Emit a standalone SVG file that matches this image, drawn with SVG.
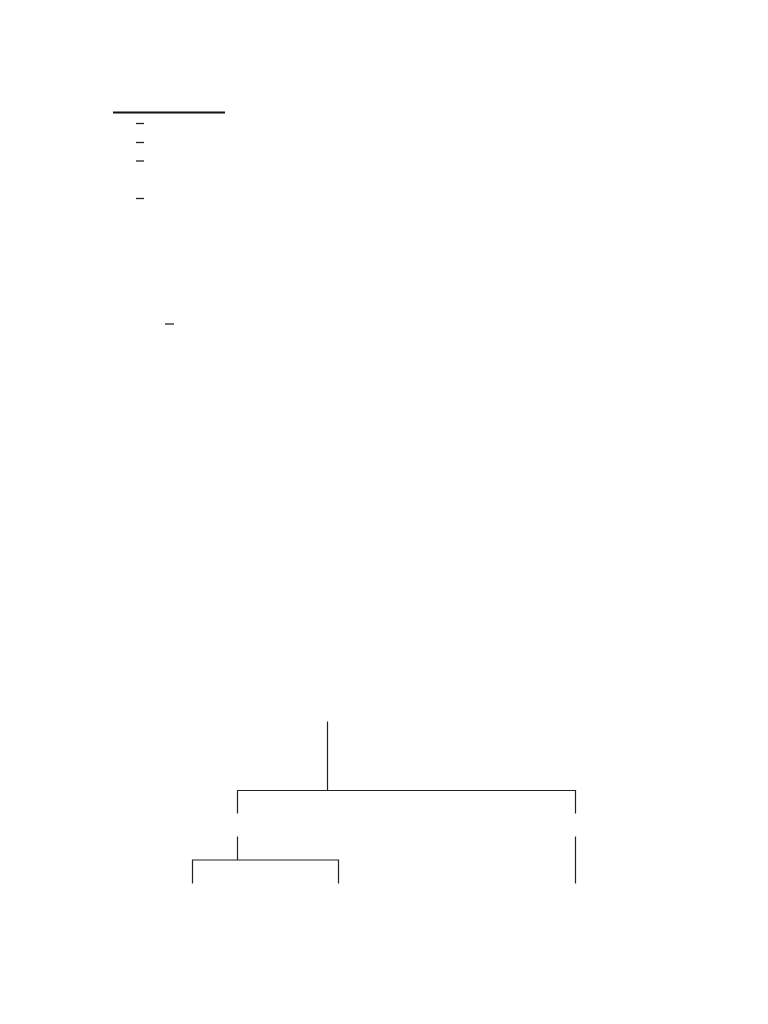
<svg xmlns="http://www.w3.org/2000/svg" width="768" height="1024" viewBox="0 0 768 1024">
<style>
.bg{fill:#ffffff}
.rule{stroke:#111;stroke-width:2;fill:none}
.dash{stroke:#222;stroke-width:1.3;fill:none}
.conn{stroke:#222;stroke-width:1.2;fill:none}
</style>
<rect class="bg" x="0" y="0" width="768" height="1024"/>
<g id="header">
<line class="rule" x1="113" y1="112.5" x2="225" y2="112.5"/>
<line class="dash" x1="136" y1="123.5" x2="144" y2="123.5"/>
<line class="dash" x1="136" y1="142.5" x2="144" y2="142.5"/>
<line class="dash" x1="136" y1="161" x2="144" y2="161"/>
<line class="dash" x1="136" y1="198.5" x2="144" y2="198.5"/>
<line class="dash" x1="165" y1="324" x2="174" y2="324"/>
</g>
<g id="connectors">
<path class="conn" d="M327.5,721.5 V790.5"/>
<path class="conn" d="M237.5,813.5 V790.5 H575.5 V813.5"/>
<path class="conn" d="M237.5,836.5 V860"/>
<path class="conn" d="M192.5,883.5 V860 H338.5 V883.5"/>
<path class="conn" d="M575.5,836.5 V883.5"/>
</g>
</svg>
